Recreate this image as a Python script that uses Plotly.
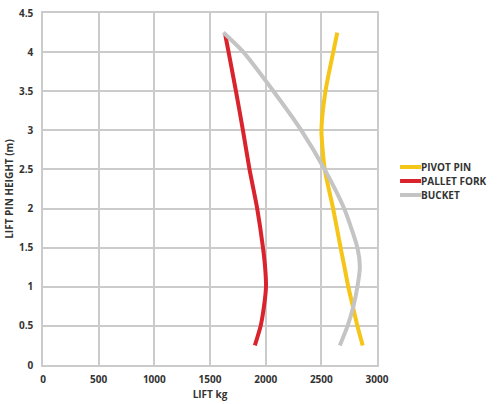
"""Lift capacity chart (Plotly)"""

import plotly.graph_objects as go

# lift pin height (m) vs lift (kg)
pivot_height = [0.25, 0.5, 0.75, 1.0, 1.25, 1.5, 2.0, 2.5, 3.0, 3.5, 4.0, 4.25]
pivot_pin = [2872, 2824, 2783, 2742, 2708, 2673, 2606, 2531, 2501, 2537, 2607, 2643]

fork_height = [0.25, 0.5, 0.75, 1.0, 1.25, 1.5, 2.0, 2.5, 3.0, 3.5, 4.0, 4.22]
pallet_fork = [1903, 1955, 1985, 2003, 1995, 1976, 1924, 1855, 1796, 1733, 1667, 1637]

bucket_height = [0.25, 0.5, 0.75, 1.0, 1.25, 1.5, 2.0, 2.5, 3.0, 3.5, 4.0, 4.25]
bucket = [2666, 2736, 2788, 2824, 2846, 2824, 2705, 2530, 2320, 2070, 1800, 1620]

x_ticks = [0, 500, 1000, 1500, 2000, 2500, 3000]
y_ticks = [0, 0.5, 1, 1.5, 2, 2.5, 3, 3.5, 4, 4.5]

FONT = "Open Sans"
GRID = "#cbcbcb"
TEXT = "#333333"

series = [
    ("PIVOT PIN", pivot_height, pivot_pin, "#f5c518"),
    ("PALLET FORK", fork_height, pallet_fork, "#d9232d"),
    ("BUCKET", bucket_height, bucket, "#c4c4c4"),
]

fig = go.Figure()
for name, h, kg, color in series:
    fig.add_trace(go.Scatter(
        x=kg,
        y=h,
        name=name,
        mode="lines",
        line=dict(color=color, width=4, shape="spline", smoothing=0.6),
        showlegend=False,
    ))

# compact legend drawn by hand (plotly's own legend rows are too tall here)
leg_x0, leg_x1 = 1.069, 1.132
leg_top, leg_step = 0.5625, 14 / 352
for i, (name, _, _, color) in enumerate(series):
    y = leg_top - i * leg_step
    fig.add_shape(type="line", xref="paper", yref="paper",
                  x0=leg_x0, x1=leg_x1, y0=y, y1=y,
                  line=dict(color=color, width=4))
    fig.add_annotation(x=leg_x1, y=y, xref="paper", yref="paper",
                       text=f"<b>{name}</b>", showarrow=False,
                       xanchor="left", yanchor="middle", xshift=-2,
                       font=dict(family=FONT, size=10, color=TEXT))

axis_common = dict(
    showgrid=True,
    gridcolor=GRID,
    gridwidth=1.5,
    showline=True,
    linecolor=GRID,
    linewidth=1.5,
    mirror=True,
    zeroline=False,
    automargin=False,
    tickfont=dict(family=FONT, size=10, color=TEXT, weight="bold"),
)

fig.update_layout(
    width=500,
    height=404,
    margin=dict(l=43, r=123, t=13, b=39),
    paper_bgcolor="white",
    plot_bgcolor="white",
    font=dict(family=FONT, size=10, color=TEXT),
    showlegend=False,
    xaxis=dict(
        range=[0, 3000],
        tickvals=x_ticks,
        ticklabelstandoff=4,
        title=dict(text="<b>LIFT kg</b>", font=dict(size=10), standoff=6),
        **axis_common,
    ),
    yaxis=dict(
        range=[0, 4.5],
        tickvals=y_ticks,
        ticklabelstandoff=6,
        title=dict(text="<b>LIFT PIN HEIGHT (m)</b>", font=dict(size=10), standoff=3),
        **axis_common,
    ),
)

# drop the browser's default body margin so the 500x404 figure fills the window
fig.write_html(
    "out.html",
    config={"displayModeBar": False},
    post_script="document.body.style.margin='0';",
)
